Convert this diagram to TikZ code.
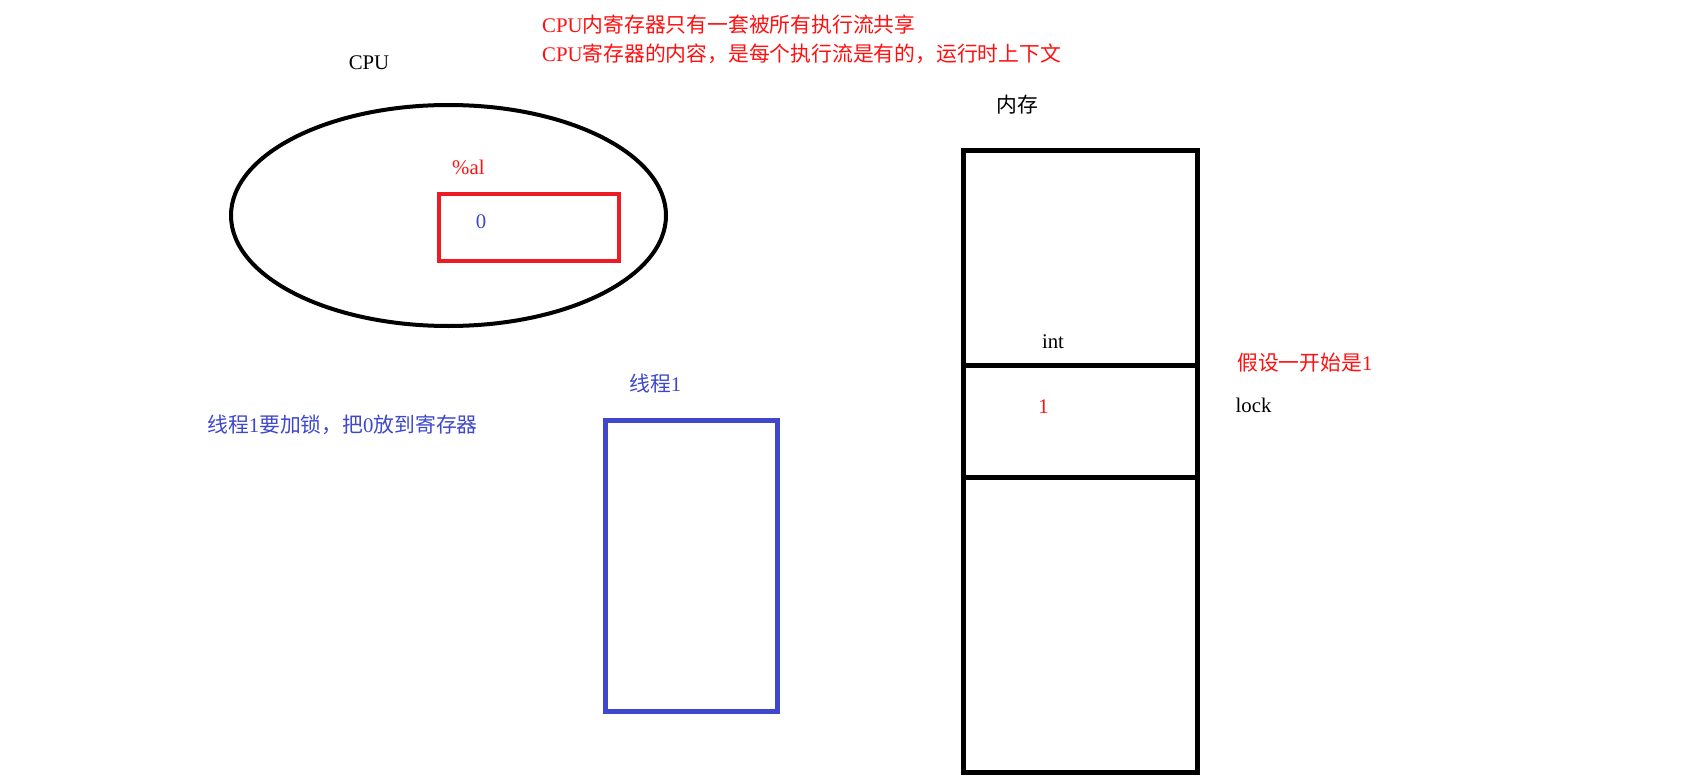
\documentclass[tikz,border=0pt]{standalone}
\usepackage{fontspec}
\setmainfont{Liberation Serif}
\newfontfamily\cjk{Noto Sans CJK SC}
\usetikzlibrary{shapes.geometric}
\definecolor{pred}{HTML}{ED1C24}
\definecolor{pblue}{HTML}{3F48CC}
\definecolor{tred}{HTML}{FF1010}
\begin{document}
\begin{tikzpicture}[x=1pt,y=-1pt,
  txt/.style={inner sep=0pt,font=\fontsize{20.8}{24}\selectfont},
  cell/.style={draw=black,line width=5pt,inner sep=0pt,minimum width=233.5pt}]
\useasboundingbox (0,0) rectangle (1692,784);
% top notes
\node[txt,text=tred,anchor=west] (note1) at (542,25) {CPU{\cjk 内寄存器只有一套被所有执行流共享}};
\node[txt,text=tred,anchor=west] (note2) at (542,54) {CPU{\cjk 寄存器的内容，是每个执行流是有的，运行时上下文}};
% CPU
\node[txt,text=black] (cpulbl) at (369,63) {CPU};
\node[draw=black,line width=4pt,ellipse,inner sep=0pt,minimum width=435pt,minimum height=221pt] (cpu) at (448.5,215.5) {};
\node[txt,text=tred,anchor=west] (allbl) at (452,167) {\%al};
\node[draw=pred,line width=4.5pt,inner sep=0pt,minimum width=180pt,minimum height=67pt] (al) at (529,227.5) {};
\node[txt,text=pblue] (zero) at (481,222) {0};
% thread 1
\node[txt,text=pblue,anchor=west] (t1lbl) at (629,384) {{\cjk 线程}1};
\node[draw=pblue,line width=5pt,inner sep=0pt,minimum width=172pt,minimum height=291pt] (t1) at (691.5,566) {};
\node[txt,text=pblue,anchor=west] (t1note) at (207,425) {{\cjk 线程}1{\cjk 要加锁，把}0{\cjk 放到寄存器}};
% memory
\node[txt,text=black] (memlbl) at (1017.5,105) {\cjk 内存};
\node[cell,minimum height=215pt] (m1) at (1080.25,258) {};
\node[cell,minimum height=112pt] (m2) at (1080.25,421.5) {};
\node[cell,minimum height=295pt] (m3) at (1080.25,625) {};
\node[txt,text=black] (intlbl) at (1053,342) {int};
\node[txt,text=tred] (one) at (1043.5,407) {1};
\node[txt,text=black] (locklbl) at (1253.5,405) {lock};
\node[txt,text=tred,anchor=west] (assume) at (1237,363) {{\cjk 假设一开始是}1};
\end{tikzpicture}
\end{document}
